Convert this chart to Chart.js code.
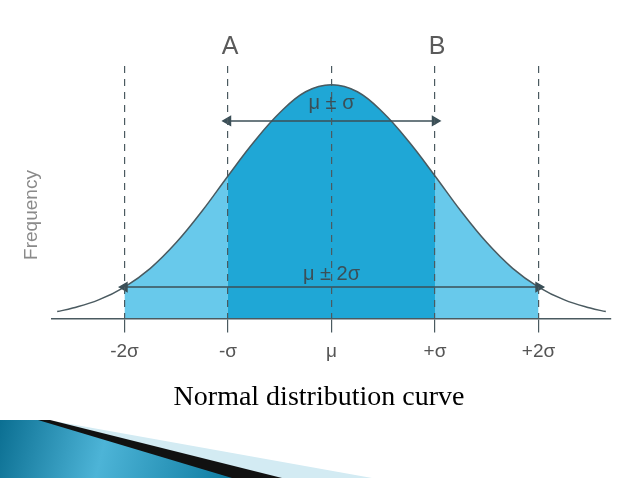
<!DOCTYPE html>
<html lang="en">
<head>
  <meta charset="UTF-8">
  <title>Normal distribution curve</title>
  <script src="https://cdn.jsdelivr.net/npm/chart.js@4.4.1/dist/chart.umd.min.js"></script>
  <style>
    body { margin: 0; background: #fff; }
    canvas { display: block; }
  </style>
</head>
<body>
  <canvas id="normalCurve" width="638" height="478"></canvas>

  <script>
    // DATA (x in sigma units, y = relative frequency)
    const xs   = [-2.65, -2.5, -2.25, -2, -1.75, -1.5, -1.25, -1, -0.75, -0.5, -0.25, 0,
                  0.25, 0.5, 0.75, 1, 1.25, 1.5, 1.75, 2, 2.25, 2.5, 2.65];
    const freq = [3, 4.5, 8, 13.5, 21.5, 32.5, 46, 61, 75.5, 88, 97, 100,
                  97, 88, 75.5, 61, 46, 32.5, 21.5, 13.5, 8, 4.5, 3];

    const tickVals   = [-2, -1, 0, 1, 2];
    const tickLabels = ["-2σ", "-σ", "μ", "+σ", "+2σ"];

    // A / B markers on top of the -σ and +σ lines
    const markerLabels = ["A", "B"];
    const markerX      = [-1, 1];

    // the two range arrows: half width (in sigma), height, label
    const rangeHalf   = [1, 2];
    const rangeArrowY = [84.5, 13.5];
    const rangeLabels = ["μ ± σ", "μ ± 2σ"];
    const rangeLabelY = [92, 19];

    const darkFill  = "#1fa7d6";
    const lightFill = "#68c9eb";
    const inkColor  = "#4a5a60";

    // one line dataset per arrow, arrowheads are rotated triangles
    const arrowSets = rangeHalf.map((h, i) => ({
      data: [{x: -h, y: rangeArrowY[i]}, {x: h, y: rangeArrowY[i]}],
      borderColor: "#3b4f57",
      backgroundColor: "#3b4f57",
      borderWidth: 1.5,
      pointStyle: "triangle",
      pointRadius: 5,
      pointRotation: [-90, 90],
      fill: false,
      order: 0
    }));

    // texts + slide decoration
    const annotations = {
      id: "annotations",
      beforeDraw(chart) {
        const c = chart.ctx;
        c.save();
        c.fillStyle = "#fff";
        c.fillRect(0, 0, chart.width, chart.height);
        c.restore();
      },
      afterDraw(chart) {
        const c = chart.ctx;
        const xs_ = chart.scales.x, ys_ = chart.scales.y;
        c.save();
        c.textAlign = "center";
        c.textBaseline = "middle";

        // A and B
        c.fillStyle = "#5a5a5a";
        c.font = "25px 'Liberation Sans', Arial, sans-serif";
        markerLabels.forEach((t, i) => {
          c.fillText(t, xs_.getPixelForValue(markerX[i]) + 2, chart.chartArea.top - 19);
        });

        // range labels
        c.fillStyle = "#3b4f57";
        c.font = "20px 'Liberation Sans', Arial, sans-serif";
        rangeLabels.forEach((t, i) => {
          c.fillText(t, xs_.getPixelForValue(0), ys_.getPixelForValue(rangeLabelY[i]));
        });

        // y axis label
        c.save();
        c.translate(32, 215);
        c.rotate(-Math.PI / 2);
        c.fillStyle = "#8a8a8a";
        c.font = "19px 'Liberation Sans', Arial, sans-serif";
        c.fillText("Frequency", 0, 0);
        c.restore();

        // bottom-left slide swoosh
        const H = chart.height;
        c.beginPath();
        c.moveTo(48, H - 58); c.lineTo(372, H); c.lineTo(0, H); c.closePath();
        c.fillStyle = "#d3ebf3";
        c.fill();
        c.beginPath();
        c.moveTo(0, H - 58); c.lineTo(50, H - 58); c.lineTo(282, H); c.lineTo(0, H); c.closePath();
        c.fillStyle = "#111";
        c.fill();
        const g = c.createLinearGradient(0, H - 58, 230, H);
        g.addColorStop(0, "#0b6f92");
        g.addColorStop(0.45, "#4db4d7");
        g.addColorStop(1, "#0f7ca1");
        c.beginPath();
        c.moveTo(0, H - 58); c.lineTo(38, H - 58); c.lineTo(232, H); c.lineTo(0, H); c.closePath();
        c.fillStyle = g;
        c.fill();
        c.restore();
      }
    };

    const curve = new Chart("normalCurve", {
      type: "line",
      data: {
        datasets: [{
          data: xs.map((x, i) => ({x: x, y: freq[i]})),
          borderColor: inkColor,
          borderWidth: 1.5,
          tension: 0.4,
          pointRadius: 0,
          fill: "origin",
          backgroundColor: lightFill,
          order: 1,
          segment: {
            backgroundColor: ctx => {
              const a = ctx.p0.parsed.x, b = ctx.p1.parsed.x;
              if (a >= -1 && b <= 1) return darkFill;
              if (a >= -2 && b <= 2) return lightFill;
              return "rgba(0,0,0,0)";
            }
          }
        }].concat(arrowSets)
      },
      options: {
        responsive: false,
        animation: false,
        layout: { padding: { left: 27, right: 27, top: 66, bottom: 64 } },
        plugins: {
          legend: { display: false },
          tooltip: { enabled: false },
          title: {
            display: true,
            position: "bottom",
            text: "Normal distribution curve",
            color: "#000",
            font: { family: "'Liberation Serif', 'Times New Roman', serif", size: 28, weight: "normal" },
            padding: { top: 9, bottom: 0 }
          }
        },
        scales: {
          x: {
            type: "linear",
            min: -2.7,
            max: 2.7,
            afterBuildTicks: axis => { axis.ticks = tickVals.map(v => ({value: v})); },
            ticks: {
              callback: (v) => tickLabels[tickVals.indexOf(v)],
              color: "#555",
              font: { family: "'Liberation Sans', Arial, sans-serif", size: 19 },
              padding: 8,
              maxRotation: 0
            },
            grid: {
              color: inkColor,
              lineWidth: 1.2,
              tickLength: 14,
              tickColor: inkColor,
              z: 1
            },
            border: { display: true, color: inkColor, width: 1.5, dash: [7, 6], z: 1 }
          },
          y: {
            // empty strip left of the plot, the rotated label is drawn by the plugin
            display: true,
            min: 0,
            max: 108,
            ticks: { display: false },
            grid: { display: false },
            border: { display: false },
            afterFit: s => { s.width = 25; }
          }
        }
      },
      plugins: [annotations]
    });
  </script>
</body>
</html>
